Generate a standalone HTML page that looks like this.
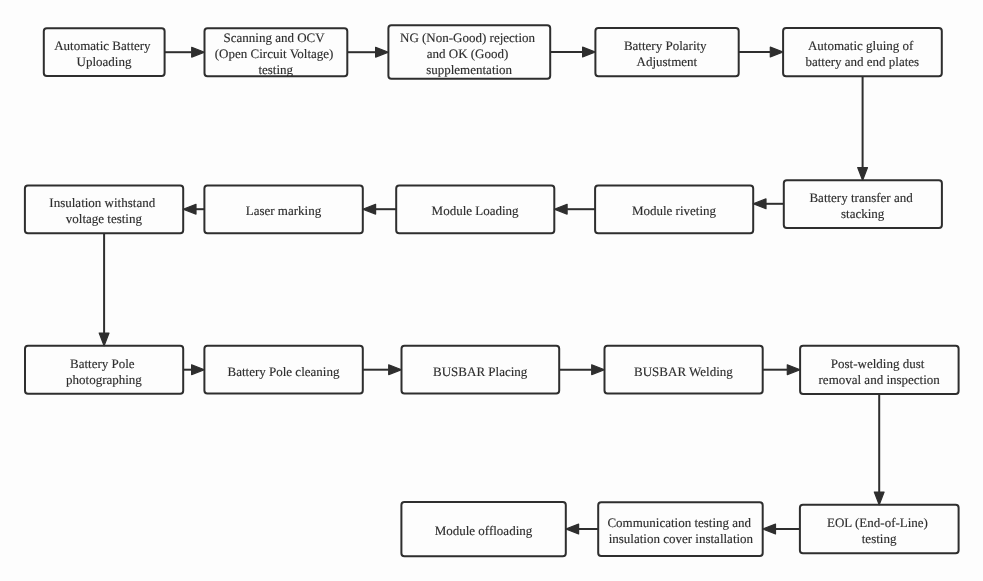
<!DOCTYPE html><html><head><meta charset="utf-8"><style>html,body{margin:0;padding:0;background:#fdfdfd;width:983px;height:581px;overflow:hidden}svg{display:block;filter:blur(0.35px)}text{text-rendering:geometricPrecision;font-family:"Liberation Serif",serif;font-size:13px;fill:#2e2e2e;stroke:#2e2e2e;stroke-width:0.15px}</style></head><body>
<svg width="983" height="581" viewBox="0 0 983 581">
<rect x="0" y="0" width="983" height="581" fill="#fdfdfd"/>
<line x1="164.60" y1="52.2" x2="191.70" y2="52.2" stroke="#2e2e2e" stroke-width="2"/>
<polygon points="204.50,52.2 191.70,47.30 191.70,57.10" fill="#2e2e2e" stroke="#2e2e2e" stroke-width="1.2" stroke-linejoin="round"/>
<line x1="347.30" y1="52.2" x2="375.60" y2="52.2" stroke="#2e2e2e" stroke-width="2"/>
<polygon points="388.40,52.2 375.60,47.30 375.60,57.10" fill="#2e2e2e" stroke="#2e2e2e" stroke-width="1.2" stroke-linejoin="round"/>
<line x1="550.20" y1="52.0" x2="582.60" y2="52.0" stroke="#2e2e2e" stroke-width="2"/>
<polygon points="595.40,52.0 582.60,47.10 582.60,56.90" fill="#2e2e2e" stroke="#2e2e2e" stroke-width="1.2" stroke-linejoin="round"/>
<line x1="738.70" y1="52.0" x2="770.30" y2="52.0" stroke="#2e2e2e" stroke-width="2"/>
<polygon points="783.10,52.0 770.30,47.10 770.30,56.90" fill="#2e2e2e" stroke="#2e2e2e" stroke-width="1.2" stroke-linejoin="round"/>
<line x1="862.6" y1="76.30" x2="862.6" y2="167.50" stroke="#2e2e2e" stroke-width="2"/>
<polygon points="862.6,180.30 857.70,167.50 867.50,167.50" fill="#2e2e2e" stroke="#2e2e2e" stroke-width="1.2" stroke-linejoin="round"/>
<line x1="783.80" y1="203.8" x2="766.00" y2="203.8" stroke="#2e2e2e" stroke-width="2"/>
<polygon points="753.20,203.8 766.00,198.90 766.00,208.70" fill="#2e2e2e" stroke="#2e2e2e" stroke-width="1.2" stroke-linejoin="round"/>
<line x1="595.10" y1="209.2" x2="567.10" y2="209.2" stroke="#2e2e2e" stroke-width="2"/>
<polygon points="554.30,209.2 567.10,204.30 567.10,214.10" fill="#2e2e2e" stroke="#2e2e2e" stroke-width="1.2" stroke-linejoin="round"/>
<line x1="396.20" y1="209.2" x2="375.60" y2="209.2" stroke="#2e2e2e" stroke-width="2"/>
<polygon points="362.80,209.2 375.60,204.30 375.60,214.10" fill="#2e2e2e" stroke="#2e2e2e" stroke-width="1.2" stroke-linejoin="round"/>
<line x1="204.40" y1="209.2" x2="196.00" y2="209.2" stroke="#2e2e2e" stroke-width="2"/>
<polygon points="183.20,209.2 196.00,204.30 196.00,214.10" fill="#2e2e2e" stroke="#2e2e2e" stroke-width="1.2" stroke-linejoin="round"/>
<line x1="104.1" y1="233.20" x2="104.1" y2="333.00" stroke="#2e2e2e" stroke-width="2"/>
<polygon points="104.1,345.80 99.20,333.00 109.00,333.00" fill="#2e2e2e" stroke="#2e2e2e" stroke-width="1.2" stroke-linejoin="round"/>
<line x1="183.20" y1="369.7" x2="191.60" y2="369.7" stroke="#2e2e2e" stroke-width="2"/>
<polygon points="204.40,369.7 191.60,364.80 191.60,374.60" fill="#2e2e2e" stroke="#2e2e2e" stroke-width="1.2" stroke-linejoin="round"/>
<line x1="362.80" y1="369.7" x2="388.70" y2="369.7" stroke="#2e2e2e" stroke-width="2"/>
<polygon points="401.50,369.7 388.70,364.80 388.70,374.60" fill="#2e2e2e" stroke="#2e2e2e" stroke-width="1.2" stroke-linejoin="round"/>
<line x1="559.20" y1="369.7" x2="591.70" y2="369.7" stroke="#2e2e2e" stroke-width="2"/>
<polygon points="604.50,369.7 591.70,364.80 591.70,374.60" fill="#2e2e2e" stroke="#2e2e2e" stroke-width="1.2" stroke-linejoin="round"/>
<line x1="762.70" y1="369.7" x2="787.30" y2="369.7" stroke="#2e2e2e" stroke-width="2"/>
<polygon points="800.10,369.7 787.30,364.80 787.30,374.60" fill="#2e2e2e" stroke="#2e2e2e" stroke-width="1.2" stroke-linejoin="round"/>
<line x1="879.2" y1="394.00" x2="879.2" y2="492.00" stroke="#2e2e2e" stroke-width="2"/>
<polygon points="879.2,504.80 874.30,492.00 884.10,492.00" fill="#2e2e2e" stroke="#2e2e2e" stroke-width="1.2" stroke-linejoin="round"/>
<line x1="799.90" y1="529.0" x2="775.50" y2="529.0" stroke="#2e2e2e" stroke-width="2"/>
<polygon points="762.70,529.0 775.50,524.10 775.50,533.90" fill="#2e2e2e" stroke="#2e2e2e" stroke-width="1.2" stroke-linejoin="round"/>
<line x1="598.20" y1="529.0" x2="578.60" y2="529.0" stroke="#2e2e2e" stroke-width="2"/>
<polygon points="565.80,529.0 578.60,524.10 578.60,533.90" fill="#2e2e2e" stroke="#2e2e2e" stroke-width="1.2" stroke-linejoin="round"/>
<rect x="43.80" y="28.30" width="120.80" height="47.70" rx="3" ry="3" fill="none" stroke="#2e2e2e" stroke-width="2"/>
<rect x="204.50" y="28.30" width="142.80" height="48.00" rx="3" ry="3" fill="none" stroke="#2e2e2e" stroke-width="2"/>
<rect x="388.40" y="25.20" width="161.80" height="53.60" rx="3" ry="3" fill="none" stroke="#2e2e2e" stroke-width="2"/>
<rect x="595.40" y="28.10" width="143.30" height="48.20" rx="3" ry="3" fill="none" stroke="#2e2e2e" stroke-width="2"/>
<rect x="783.10" y="28.00" width="158.70" height="48.30" rx="3" ry="3" fill="none" stroke="#2e2e2e" stroke-width="2"/>
<rect x="783.80" y="180.30" width="158.10" height="47.80" rx="3" ry="3" fill="none" stroke="#2e2e2e" stroke-width="2"/>
<rect x="595.10" y="185.50" width="158.10" height="47.70" rx="3" ry="3" fill="none" stroke="#2e2e2e" stroke-width="2"/>
<rect x="396.20" y="185.50" width="158.10" height="47.70" rx="3" ry="3" fill="none" stroke="#2e2e2e" stroke-width="2"/>
<rect x="204.40" y="185.50" width="158.40" height="47.70" rx="3" ry="3" fill="none" stroke="#2e2e2e" stroke-width="2"/>
<rect x="24.90" y="185.50" width="158.30" height="47.70" rx="3" ry="3" fill="none" stroke="#2e2e2e" stroke-width="2"/>
<rect x="25.00" y="345.80" width="158.20" height="47.90" rx="3" ry="3" fill="none" stroke="#2e2e2e" stroke-width="2"/>
<rect x="204.40" y="345.70" width="158.40" height="47.70" rx="3" ry="3" fill="none" stroke="#2e2e2e" stroke-width="2"/>
<rect x="401.50" y="345.70" width="157.70" height="47.70" rx="3" ry="3" fill="none" stroke="#2e2e2e" stroke-width="2"/>
<rect x="604.50" y="345.70" width="158.20" height="47.70" rx="3" ry="3" fill="none" stroke="#2e2e2e" stroke-width="2"/>
<rect x="800.10" y="345.80" width="158.50" height="48.20" rx="3" ry="3" fill="none" stroke="#2e2e2e" stroke-width="2"/>
<rect x="799.90" y="504.80" width="158.70" height="48.50" rx="3" ry="3" fill="none" stroke="#2e2e2e" stroke-width="2"/>
<rect x="598.20" y="502.20" width="164.50" height="53.80" rx="3" ry="3" fill="none" stroke="#2e2e2e" stroke-width="2"/>
<rect x="401.40" y="502.10" width="164.40" height="54.10" rx="3" ry="3" fill="none" stroke="#2e2e2e" stroke-width="2"/>
<text x="102.42" y="50.04" text-anchor="middle">Automatic Battery</text>
<text x="104.05" y="66.04" text-anchor="middle">Uploading</text>
<text x="274.12" y="42.19" text-anchor="middle">Scanning and OCV</text>
<text x="274.12" y="58.19" text-anchor="middle">(Open Circuit Voltage)</text>
<text x="275.75" y="74.19" text-anchor="middle">testing</text>
<text x="467.53" y="41.89" text-anchor="middle">NG (Non-Good) rejection</text>
<text x="467.53" y="57.89" text-anchor="middle">and OK (Good)</text>
<text x="469.15" y="73.89" text-anchor="middle">supplementation</text>
<text x="665.27" y="50.09" text-anchor="middle">Battery Polarity</text>
<text x="666.90" y="66.09" text-anchor="middle">Adjustment</text>
<text x="860.68" y="50.04" text-anchor="middle">Automatic gluing of</text>
<text x="862.30" y="66.04" text-anchor="middle">battery and end plates</text>
<text x="861.07" y="202.09" text-anchor="middle">Battery transfer and</text>
<text x="862.70" y="218.09" text-anchor="middle">stacking</text>
<text x="674.00" y="215.24" text-anchor="middle">Module riveting</text>
<text x="475.10" y="215.24" text-anchor="middle">Module Loading</text>
<text x="283.45" y="215.24" text-anchor="middle">Laser marking</text>
<text x="102.27" y="207.24" text-anchor="middle">Insulation withstand</text>
<text x="103.90" y="223.24" text-anchor="middle">voltage testing</text>
<text x="102.32" y="367.64" text-anchor="middle">Battery Pole</text>
<text x="103.95" y="383.64" text-anchor="middle">photographing</text>
<text x="283.45" y="376.34" text-anchor="middle">Battery Pole cleaning</text>
<text x="480.20" y="376.34" text-anchor="middle">BUSBAR Placing</text>
<text x="683.45" y="376.34" text-anchor="middle">BUSBAR Welding</text>
<text x="877.58" y="367.79" text-anchor="middle">Post-welding dust</text>
<text x="879.20" y="383.79" text-anchor="middle">removal and inspection</text>
<text x="877.48" y="526.94" text-anchor="middle">EOL (End-of-Line)</text>
<text x="879.10" y="542.94" text-anchor="middle">testing</text>
<text x="679.28" y="526.99" text-anchor="middle">Communication testing and</text>
<text x="680.90" y="542.99" text-anchor="middle">insulation cover installation</text>
<text x="483.45" y="535.04" text-anchor="middle">Module offloading</text>
</svg></body></html>
